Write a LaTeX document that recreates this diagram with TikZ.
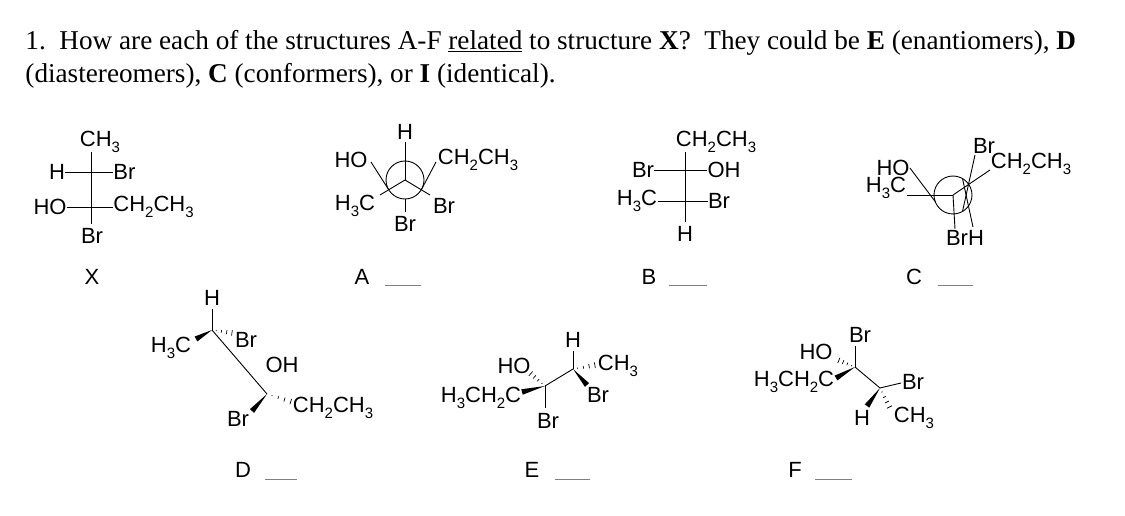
\documentclass[tikz,border=0pt]{standalone}
\usepackage{fontspec}
\setmainfont{Liberation Serif}
\newfontfamily\chemf{Liberation Sans}
\usetikzlibrary{calc}
\newcommand\wdg[2]{\fill[black] #1 -- ($#2!2.8pt!90:#1$) -- ($#2!2.8pt!-90:#1$) -- cycle;}
\newcommand\hsh[2]{\path #1 coordinate (hA) #2 coordinate (hB);
  \foreach \t in {0.2,0.45,0.7,0.95}{\draw[line width=0.7pt] ($(hA)!\t!(hB)!\t*3pt!90:(hB)$) -- ($(hA)!\t!(hB)!\t*3pt!-90:(hB)$);}}
\newcommand\sub[1]{\raisebox{-0.25em}{\fontsize{15}{15}\selectfont #1}}
\begin{document}
\begin{tikzpicture}[x=1pt,y=-1pt,line width=0.9pt,
  lab/.style={inner sep=0pt,font=\chemf\fontsize{22}{23}\selectfont},
  blank/.style={line width=0.8pt,gray}]
\useasboundingbox (0,0) rectangle (1125,516);
% header
\node[anchor=west,inner sep=0pt,font=\fontsize{27.2}{28}\selectfont] (t1) at (25,43) {1.\ \ How are each of the structures A-F \underline{related} to structure \textbf{X}?\ \ They could be \textbf{E} (enantiomers), \textbf{D}};
\node[anchor=west,inner sep=0pt,font=\fontsize{27.2}{28}\selectfont] (t2) at (25,76) {(diastereomers), \textbf{C} (conformers), or \textbf{I} (identical).};
% ---------- X ----------
\node[lab] (x1) at (100,142) {CH\sub{3}};
\node[lab] (x2) at (57,172) {H};
\node[lab,anchor=west] (x3) at (113,172) {Br};
\node[lab] (x4) at (50,207) {HO};
\node[lab,anchor=west] (x5) at (113,207) {CH\sub{2}CH\sub{3}};
\node[lab] (x6) at (92,236) {Br};
\node[lab] (xl) at (92,277) {X};
\draw (91,152) -- (91,224);
\draw (x2.east) -- (x3.west);
\draw (x4.east) -- (x5.west);
% ---------- A ----------
\coordinate (ac) at (405,180);
\draw (ac) circle (19);
\node[lab] (a1) at (405,132) {H};
\node[lab] (a2) at (351,160) {HO};
\node[lab] (a3) at (478,160) {CH\sub{2}CH\sub{3}};
\node[lab] (a4) at (355,206) {H\sub{3}C};
\node[lab] (a5) at (444,206) {Br};
\node[lab] (a6) at (405,224) {Br};
\draw (ac) -- (405,142);
\draw (ac) -- (380,195);
\draw (ac) -- (430,195);
\draw ($(ac)+(150:19)$) -- (371,162);
\draw ($(ac)+(30:19)$) -- (436,162);
\draw ($(ac)+(0,19)$) -- (405,212);
\node[lab] (al) at (362,277) {A};
\draw[blank] (385,285) -- (421,285);
% ---------- B ----------
\node[lab] (b1) at (716,142) {CH\sub{2}CH\sub{3}};
\node[lab] (b2) at (643,170) {Br};
\node[lab] (b3) at (724,170) {OH};
\node[lab] (b4) at (637,201) {H\sub{3}C};
\node[lab] (b5) at (719,201) {Br};
\node[lab] (b6) at (685,234) {H};
\draw (685,152) -- (685,222);
\draw (b2.east) -- (b3.west);
\draw (b4.east) -- (b5.west);
\node[lab] (bl) at (649,277) {B};
\draw[blank] (669,285) -- (707,285);
% ---------- C ----------
\coordinate (cc) at (953,195);
\draw (cc) circle (19);
\node[lab] (c1) at (984,146) {Br};
\node[lab] (c2) at (1031,164) {CH\sub{2}CH\sub{3}};
\node[lab] (c3) at (893,168) {HO};
\node[lab] (c4) at (886,188) {H\sub{3}C};
\node[lab] (c5) at (965,238) {BrH};
\draw (cc) -- (990,170);
\draw (cc) -- (c4.east |- cc);
\draw (cc) -- (955,229);
\draw (c3.east) -- ($(cc)+(160:19)$);
\draw ($(cc)+(60:19)$) -- (975,155);
\draw ($(cc)+(-60:19)$) -- (973,227);
\node[lab] (cl) at (914,277) {C};
\draw[blank] (938,285) -- (973,285);
% ---------- D ----------
\coordinate (d1) at (212,330);
\coordinate (d2) at (267,394);
\node[lab] (dh) at (212,298) {H};
\node[lab] (dm) at (171,348) {H\sub{3}C};
\node[lab] (db1) at (246,340) {Br};
\node[lab] (doh) at (282,365) {OH};
\node[lab] (db2) at (238,419) {Br};
\node[lab] (de) at (333,408) {CH\sub{2}CH\sub{3}};
\draw (d1) -- (212,309);
\draw (d1) -- (d2);
\wdg{(d1)}{(196,339)}
\hsh{(d1)}{(233,333)}
\wdg{(d2)}{(252,411)}
\hsh{(d2)}{(292,402)}
\node[lab] (dl) at (243,470) {D};
\draw[blank] (265,479) -- (297,479);
% ---------- E ----------
\coordinate (e1) at (545,386);
\coordinate (e2) at (573,369);
\node[lab] (eh) at (573,340) {H};
\node[lab] (eho) at (514,366) {HO};
\node[lab] (eet) at (481,398) {H\sub{3}CH\sub{2}C};
\node[lab] (eb1) at (548,421) {Br};
\node[lab] (em) at (618,366) {CH\sub{3}};
\node[lab] (eb2) at (598,395) {Br};
\draw (e1) -- (e2);
\draw (e2) -- (573,351);
\draw (e1) -- (545,408);
\hsh{(e1)}{(530,373)}
\wdg{(e1)}{(522,392)}
\hsh{(e2)}{(596,365)}
\wdg{(e2)}{(587,385)}
\node[lab] (el) at (532,470) {E};
\draw[blank] (555,479) -- (590,479);
% ---------- F ----------
\coordinate (f1) at (855,367);
\coordinate (f2) at (880,388);
\node[lab] (fb1) at (860,335) {Br};
\node[lab] (fho) at (816,352) {HO};
\node[lab] (fet) at (794,382) {H\sub{3}CH\sub{2}C};
\node[lab] (fb2) at (913,382) {Br};
\node[lab] (fh) at (862,418) {H};
\node[lab] (fm) at (914,418) {CH\sub{3}};
\draw (f1) -- (f2);
\draw (f1) -- (855,346);
\draw (f2) -- (901,383);
\hsh{(f1)}{(838,360)}
\wdg{(f1)}{(836,378)}
\wdg{(f2)}{(867,406)}
\hsh{(f2)}{(890,408)}
\node[lab] (fl) at (795,470) {F};
\draw[blank] (815,479) -- (852,479);
\end{tikzpicture}
\end{document}
